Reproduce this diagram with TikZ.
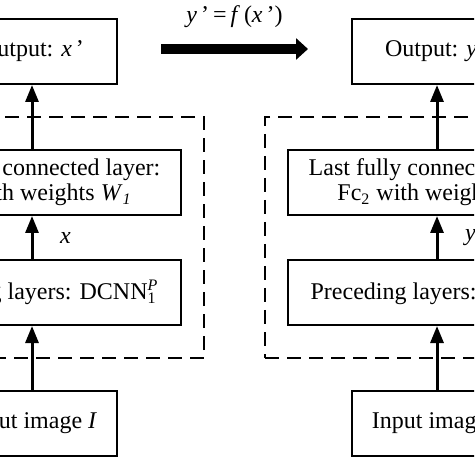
\documentclass[tikz,border=0pt]{standalone}
\usepackage{fontspec}
\setmainfont{Liberation Serif}
\usetikzlibrary{arrows.meta,positioning,fit}

\begin{document}
\begin{tikzpicture}[x=0.5pt,y=-0.5pt,>={Triangle[length=8.5pt,width=6.5pt]},
		font=\fontsize{12}{12.5}\selectfont,align=center,
		box/.style={draw,line width=1pt,minimum width=85pt,minimum height=32.5pt,inner sep=0pt},
		widebox/.style={box,minimum width=149pt},
		dashbox/.style={draw,line width=1pt,dash pattern=on 7pt off 4pt,inner xsep=11pt,inner ysep=16pt},
		link/.style={->,line width=1.5pt}]
			\useasboundingbox (0,0) rectangle (474,474);
			\clip (0,0) rectangle (474,474);
			% network for x
			\node[widebox] (pre1) at (32,292.5) {Preceding layers: DCNN\rlap{\textsubscript{1}}\textsuperscript{\textit{P}}};
			\node[widebox] [above=21.5pt of pre1] (fc1) {Last fully connected layer:\\ Fc\textsubscript{1} with weights \textit{W}\textsubscript{\textit{1}}};
			\node[box] [above=32pt of fc1] (out1) {Output: \textit{x}\,’};
			\node[box] [below=32pt of pre1] (in1) {Input image \textit{I}};
			\node[dashbox,fit=(fc1)(pre1)] (net1) {};
			% network for y
			\node[widebox] (pre2) at (437,292.5) {Preceding layers: DCNN\rlap{\textsubscript{2}}\textsuperscript{\textit{P}}};
			\node[widebox] [above=21.5pt of pre2] (fc2) {Last fully connected layer:\\ Fc\textsubscript{2} with weights \textit{W}\textsubscript{\textit{2}}};
			\node[box] [above=32pt of fc2] (out2) {Output: \textit{y}\,’};
			\node[box] [below=32pt of pre2] (in2) {Input image \textit{I}};
			\node[dashbox,fit=(fc2)(pre2)] (net2) {};
			\path[link]
				(in1) edge (pre1)
				(pre1) edge node[right=10pt] {\textit{x}} (fc1)
				(fc1) edge (out1)
				(in2) edge (pre2)
				(pre2) edge node[right=10pt] {\textit{y}} (fc2)
				(fc2) edge (out2);
			% mapping
			\draw[line width=5pt,-{Triangle[length=6pt,width=10.5pt]},shorten <=21.5pt,shorten >=21.5pt]
				([yshift=1.25pt]out1.east) -- node[above=5pt] {\textit{y}\,’\,=\,\textit{f}\,(\textit{x}\,’)} ([yshift=1.25pt]out2.west);
		\end{tikzpicture}
\end{document}
